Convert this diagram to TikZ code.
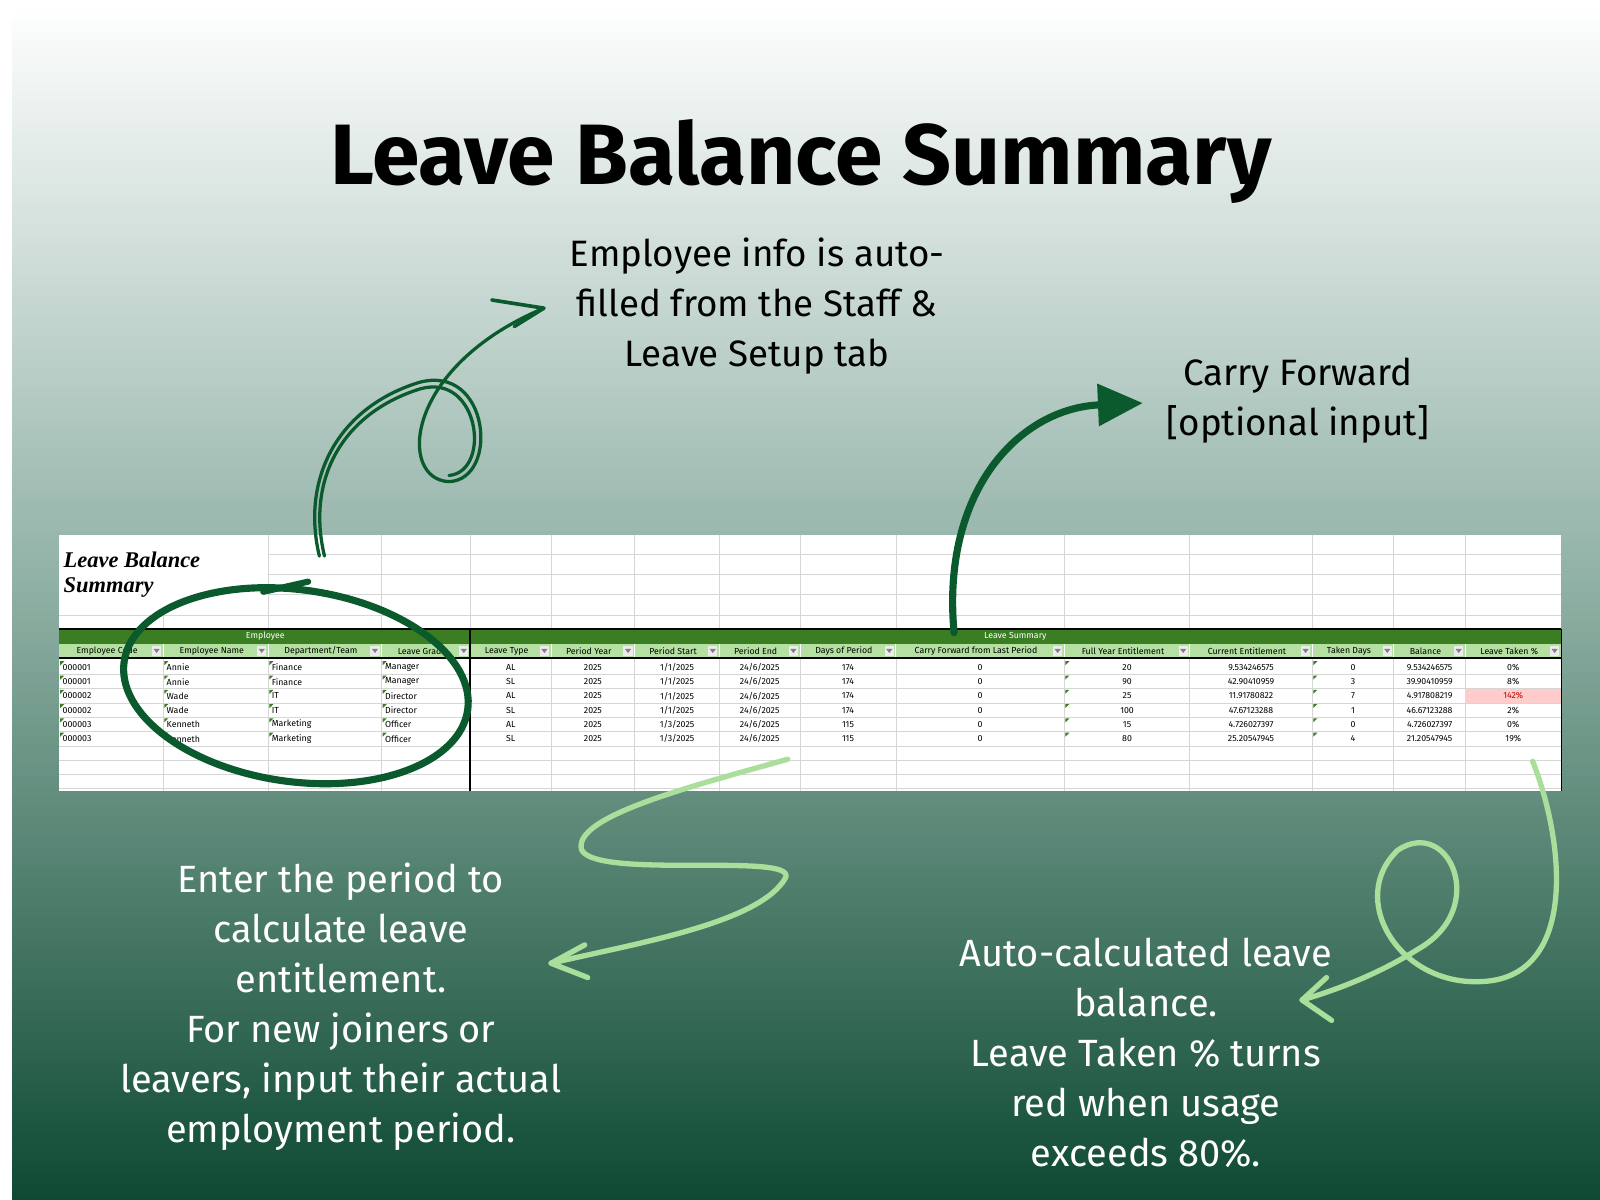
\documentclass[tikz,border=0pt]{standalone}
\usepackage{fontspec}
\setmainfont{Fira Sans}
\newfontfamily\ttlfont{Fira Sans}
\newfontfamily\serifb{Liberation Serif}
\usetikzlibrary{arrows.meta}
\definecolor{dkg}{HTML}{0B5A2E}
\definecolor{ltg}{HTML}{A9DE9B}
\definecolor{band}{HTML}{3B7D23}
\definecolor{hdr}{HTML}{B4E0A2}
\definecolor{grid}{HTML}{D6D6D6}
\definecolor{bgbot}{HTML}{0E4A33}
\definecolor{bgmid}{HTML}{8DAFA3}
\begin{document}
\begin{tikzpicture}[x=0.5pt,y=-0.5pt,
  note/.style={text=white,align=center,font=\fontsize{18.6}{24.5}\selectfont},
  notedk/.style={text=black,align=center,font=\fontsize{18}{24.5}\selectfont},
  cell/.style={inner sep=0pt,font=\fontsize{4.3}{5}\selectfont},
  hcell/.style={inner sep=0pt,font=\fontsize{4.3}{5}\selectfont},
  ltline/.style={draw=ltg,line width=2.6pt,line cap=round,line join=round}]
\useasboundingbox (0,0) rectangle (1568,1176);
\fill[white] (0,0) rectangle (12,1176);
\foreach \i in {0,...,58}{
  \pgfmathsetmacro\p{100*\i/58}
  \fill[bgmid!\p!white] (12,10*\i) rectangle (1568,10*\i+11);
}
\foreach \i in {0,...,59}{
  \pgfmathsetmacro\p{100*\i/59}
  \fill[bgbot!\p!bgmid] (12,580+10*\i) rectangle (1568,590+10*\i+1);
}
\node (title) at (785,158) {\ttlfont\bfseries\fontsize{42}{50}\selectfont Leave Balance Summary};
% table
\fill[white] (58,524) rectangle (1530,775);
\foreach \x in {263,374,461,540,622,705,784,878,1043,1166,1286,1366,1436}
  \draw[grid,line width=0.4pt] (\x,524) -- (\x,616);
\foreach \y in {543,563,583,603}
  \draw[grid,line width=0.4pt] (263,\y) -- (1530,\y);
\draw[grid,line width=0.4pt] (58,603) -- (263,603);
\draw[grid,line width=0.4pt] (160,603) -- (160,616);
\fill[band] (58,616) rectangle (1530,631);
\fill[hdr] (58,631) rectangle (1530,645);
\foreach \x in {160,263,374,540,622,705,784,878,1043,1166,1286,1366,1436}
  \draw[grid,line width=0.4pt] (\x,645) -- (\x,775);
\foreach \x in {160,263,374,540,622,705,784,878,1043,1166,1286,1366,1436}
  \draw[white,line width=0.5pt] (\x,631) -- (\x,645);
\foreach \i in {0,...,8}
  \draw[grid,line width=0.4pt] (58,661+14*\i) -- (1530,661+14*\i);
\fill[red!20] (1436,675) rectangle (1530,689);
\draw[black,line width=1pt] (58,616) -- (1530,616);
\draw[black,line width=0.8pt] (58,645) -- (1530,645);
\draw[black,line width=1pt] (461,616) -- (461,775);
\draw[black,line width=0.6pt] (1530,616) -- (1530,775);
\node[hcell,text=white] (hemp) at (260,623.5) {Employee};
\node[hcell,text=white] (hls) at (995,623.5) {Leave Summary};
\node[anchor=north west,inner sep=0pt,align=left,font=\serifb\bfseries\itshape\fontsize{11}{12.5}\selectfont] (ttab) at (62,540)
  {Leave Balance\\Summary};
\foreach \a/\b/\t [count=\k] in {58/160/Employee Code,160/263/Employee Name,263/374/{Department/Team},374/461/Leave Grade,461/540/Leave Type,540/622/Period Year,622/705/Period Start,705/784/Period End,784/878/Days of Period,878/1043/Carry Forward from Last Period,1043/1166/Full Year Entitlement,1166/1286/Current Entitlement,1286/1366/Taken Days,1366/1436/Balance,1436/1530/Leave Taken \%}{
  \node[hcell] (h\k) at ({(\a+\b)/2-4},638) {\t};
  \fill[white!85!gray] (\b-11,633) rectangle (\b-2,643);
  \fill[gray] (\b-9.5,636) -- (\b-3.5,636) -- (\b-6.5,640) -- cycle;
}
% data
\newcommand\colL[2]{\foreach \v [count=\i] in {#2}{\node[cell,anchor=west] (c#1\i) at (#1+3,640+14*\i) {\v};
  \fill[band] (#1+1,634+14*\i) -- (#1+5,634+14*\i) -- (#1+1,638+14*\i) -- cycle;}}
\newcommand\colC[3]{\foreach \v [count=\i] in {#3}{\node[cell] (c#1\i) at ({(#1+#2)/2},640+14*\i) {\v};}}
\colL{58}{000001,000001,000002,000002,000003,000003}
\colL{160}{Annie,Annie,Wade,Wade,Kenneth,Kenneth}
\colL{263}{Finance,Finance,IT,IT,Marketing,Marketing}
\colL{374}{Manager,Manager,Director,Director,Officer,Officer}
\colC{461}{540}{AL,SL,AL,SL,AL,SL}
\colC{540}{622}{2025,2025,2025,2025,2025,2025}
\colC{622}{705}{1/1/2025,1/1/2025,1/1/2025,1/1/2025,1/3/2025,1/3/2025}
\colC{705}{784}{24/6/2025,24/6/2025,24/6/2025,24/6/2025,24/6/2025,24/6/2025}
\colC{784}{878}{174,174,174,174,115,115}
\colC{878}{1043}{0,0,0,0,0,0}
\colC{1043}{1166}{20,90,25,100,15,80}
\colC{1166}{1286}{9.534246575,42.90410959,11.91780822,47.67123288,4.726027397,25.20547945}
\colC{1286}{1366}{0,3,7,1,0,4}
\colC{1366}{1436}{9.534246575,39.90410959,4.917808219,46.67123288,4.726027397,21.20547945}
\colC{1436}{1530}{0\%,8\%,{\color{red!75!black}142\%},2\%,0\%,19\%}
\foreach \x in {1043,1286}\foreach \i in {1,...,6}
  \fill[band] (\x+1,634+14*\i) -- (\x+5,634+14*\i) -- (\x+1,638+14*\i) -- cycle;
% texts
\node[notedk] (t1) at (742,300) {Employee info is auto-\\filled from the Staff \&\\Leave Setup tab};
\node[notedk] (t2) at (1272,393) {Carry Forward\\{[}optional input{]}};
\node[note] (t3) at (334,987) {Enter the period to\\calculate leave\\entitlement.\\For new joiners or\\leavers, input their actual\\employment period.};
\node[note] (t4) at (1123,1032) {Auto-calculated leave\\balance.\\Leave Taken \% turns\\red when usage\\exceeds 80\%.};
% dark loopy arrow
\coordinate (a1s) at (313,545);
\coordinate (a1e) at (533,302);
\draw[dkg,line width=1.6pt,line cap=round] (a1s) .. controls (295,470) and (330,400) .. (410,375)
  .. controls (480,355) and (490,470) .. (440,472) .. controls (390,470) and (395,360) .. (a1e);
\draw[dkg,line width=1.6pt,line cap=round] (318,545) .. controls (300,470) and (335,405) .. (412,381)
  .. controls (470,365) and (482,462) .. (440,466);
\draw[dkg,line width=1.8pt,line cap=round,line join=round] (482,294) -- (a1e) -- (504,320);
% ellipse
\draw[dkg,line width=3.5pt,rotate around={-8:(290,672)}] (290,672) ellipse (170 and 94);
\coordinate (sk1) at (258,580); \coordinate (sk2) at (302,570);
\draw[dkg,line width=3pt,line cap=round] (sk1) -- (sk2);
% carry forward arrow
\coordinate (cfs) at (935,620);
\coordinate (cfe) at (1120,395);
\draw[dkg,line width=3.5pt,line cap=round,-{Triangle[length=22pt,width=20pt]}] (cfs) .. controls (922,480) and (1000,400) .. (cfe);
% light S arrow
\coordinate (ss) at (772,744);
\coordinate (se) at (540,944);
\draw[ltline] (ss) .. controls (680,770) and (560,800) .. (570,833)
  .. controls (585,862) and (780,835) .. (770,860) .. controls (745,905) and (620,925) .. (se);
\draw[ltline] (573,926) -- (se) -- (576,958);
% light loop arrow
\coordinate (rs) at (1502,746);
\coordinate (re) at (1276,980);
\draw[ltline] (rs) .. controls (1535,830) and (1545,960) .. (1450,962)
  .. controls (1370,965) and (1320,880) .. (1370,833) .. controls (1420,800) and (1460,890) .. (1390,930)
  .. controls (1350,955) and (1310,970) .. (re);
\draw[ltline] (1300,958) -- (re) -- (1305,1000);
\end{tikzpicture}
\end{document}
